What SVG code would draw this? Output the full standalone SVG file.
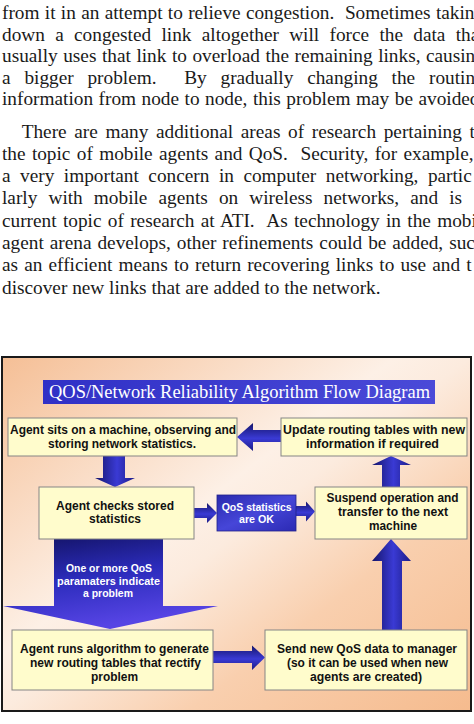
<svg xmlns="http://www.w3.org/2000/svg" width="474" height="724" viewBox="0 0 474 724">
<style>
.p{font-family:"Liberation Serif","Times New Roman",serif;font-size:19.3px;fill:#1a1a1a;white-space:pre}
.b{font-family:"Liberation Sans",Arial,sans-serif;font-weight:bold;font-size:12px;fill:#111;text-anchor:middle}
.w{font-family:"Liberation Sans",Arial,sans-serif;font-weight:bold;font-size:10.5px;fill:#fff;text-anchor:middle}
.box{fill:#fffccc;stroke:#858585;stroke-width:1}
.av{fill:url(#gv)}
.ah{fill:url(#gh)}
</style>
<defs>
<linearGradient id="bg" x1="0" y1="0" x2="1" y2="1">
<stop offset="0" stop-color="#f5bf96"/>
<stop offset="0.42" stop-color="#fdf0e6"/>
<stop offset="0.5" stop-color="#fcebde"/>
<stop offset="0.7" stop-color="#f9cfae"/>
<stop offset="1" stop-color="#f5bb8e"/>
</linearGradient>
<linearGradient id="gv" x1="0" y1="0" x2="1" y2="0">
<stop offset="0" stop-color="#15156a"/>
<stop offset="0.55" stop-color="#3a3ad4"/>
<stop offset="1" stop-color="#1c1c86"/>
</linearGradient>
<linearGradient id="gh" x1="0" y1="0" x2="0" y2="1">
<stop offset="0" stop-color="#15156a"/>
<stop offset="0.55" stop-color="#3a3ad4"/>
<stop offset="1" stop-color="#1c1c86"/>
</linearGradient>
<linearGradient id="gc" x1="0" y1="0" x2="0.35" y2="1">
<stop offset="0" stop-color="#121262"/>
<stop offset="0.5" stop-color="#2c2cbc"/>
<stop offset="1" stop-color="#5644e4"/>
</linearGradient>
<linearGradient id="gq" x1="0" y1="0" x2="1" y2="1">
<stop offset="0" stop-color="#2a2aae"/>
<stop offset="0.5" stop-color="#4646d8"/>
<stop offset="1" stop-color="#2c2ab4"/>
</linearGradient>
<linearGradient id="gt" x1="0" y1="0" x2="1" y2="0">
<stop offset="0" stop-color="#3030c6"/>
<stop offset="1" stop-color="#4a4ad8"/>
</linearGradient>
</defs>

<g id="paragraphs" class="p">
<text xml:space="preserve" x="2" y="19" word-spacing="0.5">from it in an attempt to relieve congestion.  Sometimes takin</text>
<text xml:space="preserve" x="2" y="40.5" word-spacing="5.5">down a congested link altogether will force the data tha</text>
<text xml:space="preserve" x="2" y="62" word-spacing="0.7">usually uses that link to overload the remaining links, causin</text>
<text xml:space="preserve" x="2" y="83.5" word-spacing="9">a bigger problem.  By gradually changing the routin</text>
<text xml:space="preserve" x="2" y="105" word-spacing="0.7">information from node to node, this problem may be avoided</text>
<text xml:space="preserve" x="21.7" y="137.5" word-spacing="2.85">There are many additional areas of research pertaining t</text>
<text xml:space="preserve" x="2" y="159.8" word-spacing="1.5">the topic of mobile agents and QoS.  Security, for example,</text>
<text xml:space="preserve" x="2" y="182.1" word-spacing="4.7">a very important concern in computer networking, partic</text>
<text xml:space="preserve" x="2" y="204.4" word-spacing="6.3">larly with mobile agents on wireless networks, and is</text>
<text xml:space="preserve" x="2" y="226.7" word-spacing="1.5">current topic of research at ATI.  As technology in the mobi</text>
<text xml:space="preserve" x="2" y="249" word-spacing="1.15">agent arena develops, other refinements could be added, suc</text>
<text xml:space="preserve" x="2" y="271.3" word-spacing="1.3">as an efficient means to return recovering links to use and t</text>
<text xml:space="preserve" x="2" y="293.6">discover new links that are added to the network.</text>
</g>

<g id="frame">
<rect x="2" y="357" width="469" height="354" fill="url(#bg)" stroke="#1a1a1a" stroke-width="2"/>
</g>

<g id="title">
<rect x="43" y="380" width="392" height="24" fill="url(#gt)"/>
<text x="239.5" y="397.5" font-family="'Liberation Serif','Times New Roman',serif" font-size="18.4" fill="#fff" text-anchor="middle" textLength="381" lengthAdjust="spacingAndGlyphs">QOS/Network Reliability Algorithm Flow Diagram</text>
</g>

<g id="connectors">
<polygon class="ah" points="237,437 253,423 253,430 281,430 281,442 253,442 253,451"/>
<polygon class="av" points="103,456 125,456 125,478 135,478 115,487 95,478 103,478"/>
<polygon class="ah" points="194,508 207,508 207,503 217,513 207,523 207,518 194,518"/>
<polygon class="ah" points="296,506 306,506 306,501.5 315,511.5 306,521.5 306,516 296,516"/>
<polygon class="av" points="382,487 400,487 400,465 411,465 391,456 372,465 382,465"/>
<polygon class="av" points="382,630 402,630 402,561 411,561 391,539 372,561 382,561"/>
<polygon class="ah" points="213,651 252,651 252,645.5 265,657.5 252,670 252,663 213,663"/>
<g id="problem-arrow">
<polygon fill="url(#gc)" points="54,539 163,539 163,606 218,606 110,629 3,606 54,606"/>
<text class="w" font-size="10" x="109" y="572" textLength="86" lengthAdjust="spacingAndGlyphs">One or more QoS</text>
<text class="w" font-size="10" x="108.5" y="585" textLength="103" lengthAdjust="spacingAndGlyphs">paramaters indicate</text>
<text class="w" font-size="10" x="108" y="596.5" textLength="50" lengthAdjust="spacingAndGlyphs">a problem</text>
</g>
</g>

<g id="agent-sits">
<rect class="box" x="8" y="418" width="229" height="38"/>
<text class="b" x="123" y="434" textLength="226" lengthAdjust="spacingAndGlyphs">Agent sits on a machine, observing and</text>
<text class="b" x="122" y="448" textLength="148" lengthAdjust="spacingAndGlyphs">storing network statistics.</text>
</g>

<g id="update-tables">
<rect class="box" x="281" y="418" width="186" height="38"/>
<text class="b" x="374" y="434" textLength="182" lengthAdjust="spacingAndGlyphs">Update routing tables with new</text>
<text class="b" x="372.5" y="448" textLength="133" lengthAdjust="spacingAndGlyphs">information if required</text>
</g>

<g id="agent-checks">
<rect class="box" x="39" y="487" width="155" height="52"/>
<text class="b" x="115" y="510" textLength="118" lengthAdjust="spacingAndGlyphs">Agent checks stored</text>
<text class="b" x="115" y="523" textLength="52" lengthAdjust="spacingAndGlyphs">statistics</text>
</g>

<g id="qos-ok">
<rect x="217" y="495" width="79" height="36" fill="url(#gq)" stroke="#22228a" stroke-width="0.8"/>
<text class="w" x="256.7" y="510.5" textLength="70" lengthAdjust="spacingAndGlyphs">QoS statistics</text>
<text class="w" x="256.5" y="523" textLength="35" lengthAdjust="spacingAndGlyphs">are OK</text>
</g>

<g id="suspend">
<rect class="box" x="315" y="487" width="152" height="52"/>
<text class="b" x="392.5" y="502" textLength="132" lengthAdjust="spacingAndGlyphs">Suspend operation and</text>
<text class="b" x="393" y="516" textLength="110" lengthAdjust="spacingAndGlyphs">transfer to the next</text>
<text class="b" x="393" y="530" textLength="48" lengthAdjust="spacingAndGlyphs">machine</text>
</g>

<g id="agent-runs">
<rect class="box" x="12" y="630" width="201" height="60"/>
<text class="b" x="114.5" y="653" textLength="189" lengthAdjust="spacingAndGlyphs">Agent runs algorithm to generate</text>
<text class="b" x="115.5" y="666.5" textLength="171" lengthAdjust="spacingAndGlyphs">new routing tables that rectify</text>
<text class="b" x="114.5" y="680.5" textLength="47" lengthAdjust="spacingAndGlyphs">problem</text>
</g>

<g id="send-qos">
<rect class="box" x="265" y="630" width="202" height="60"/>
<text class="b" x="367" y="653" textLength="180" lengthAdjust="spacingAndGlyphs">Send new QoS data to manager</text>
<text class="b" x="367.5" y="667" textLength="161" lengthAdjust="spacingAndGlyphs">(so it can be used when new</text>
<text class="b" x="366" y="681" textLength="112" lengthAdjust="spacingAndGlyphs">agents are created)</text>
</g>
</svg>
